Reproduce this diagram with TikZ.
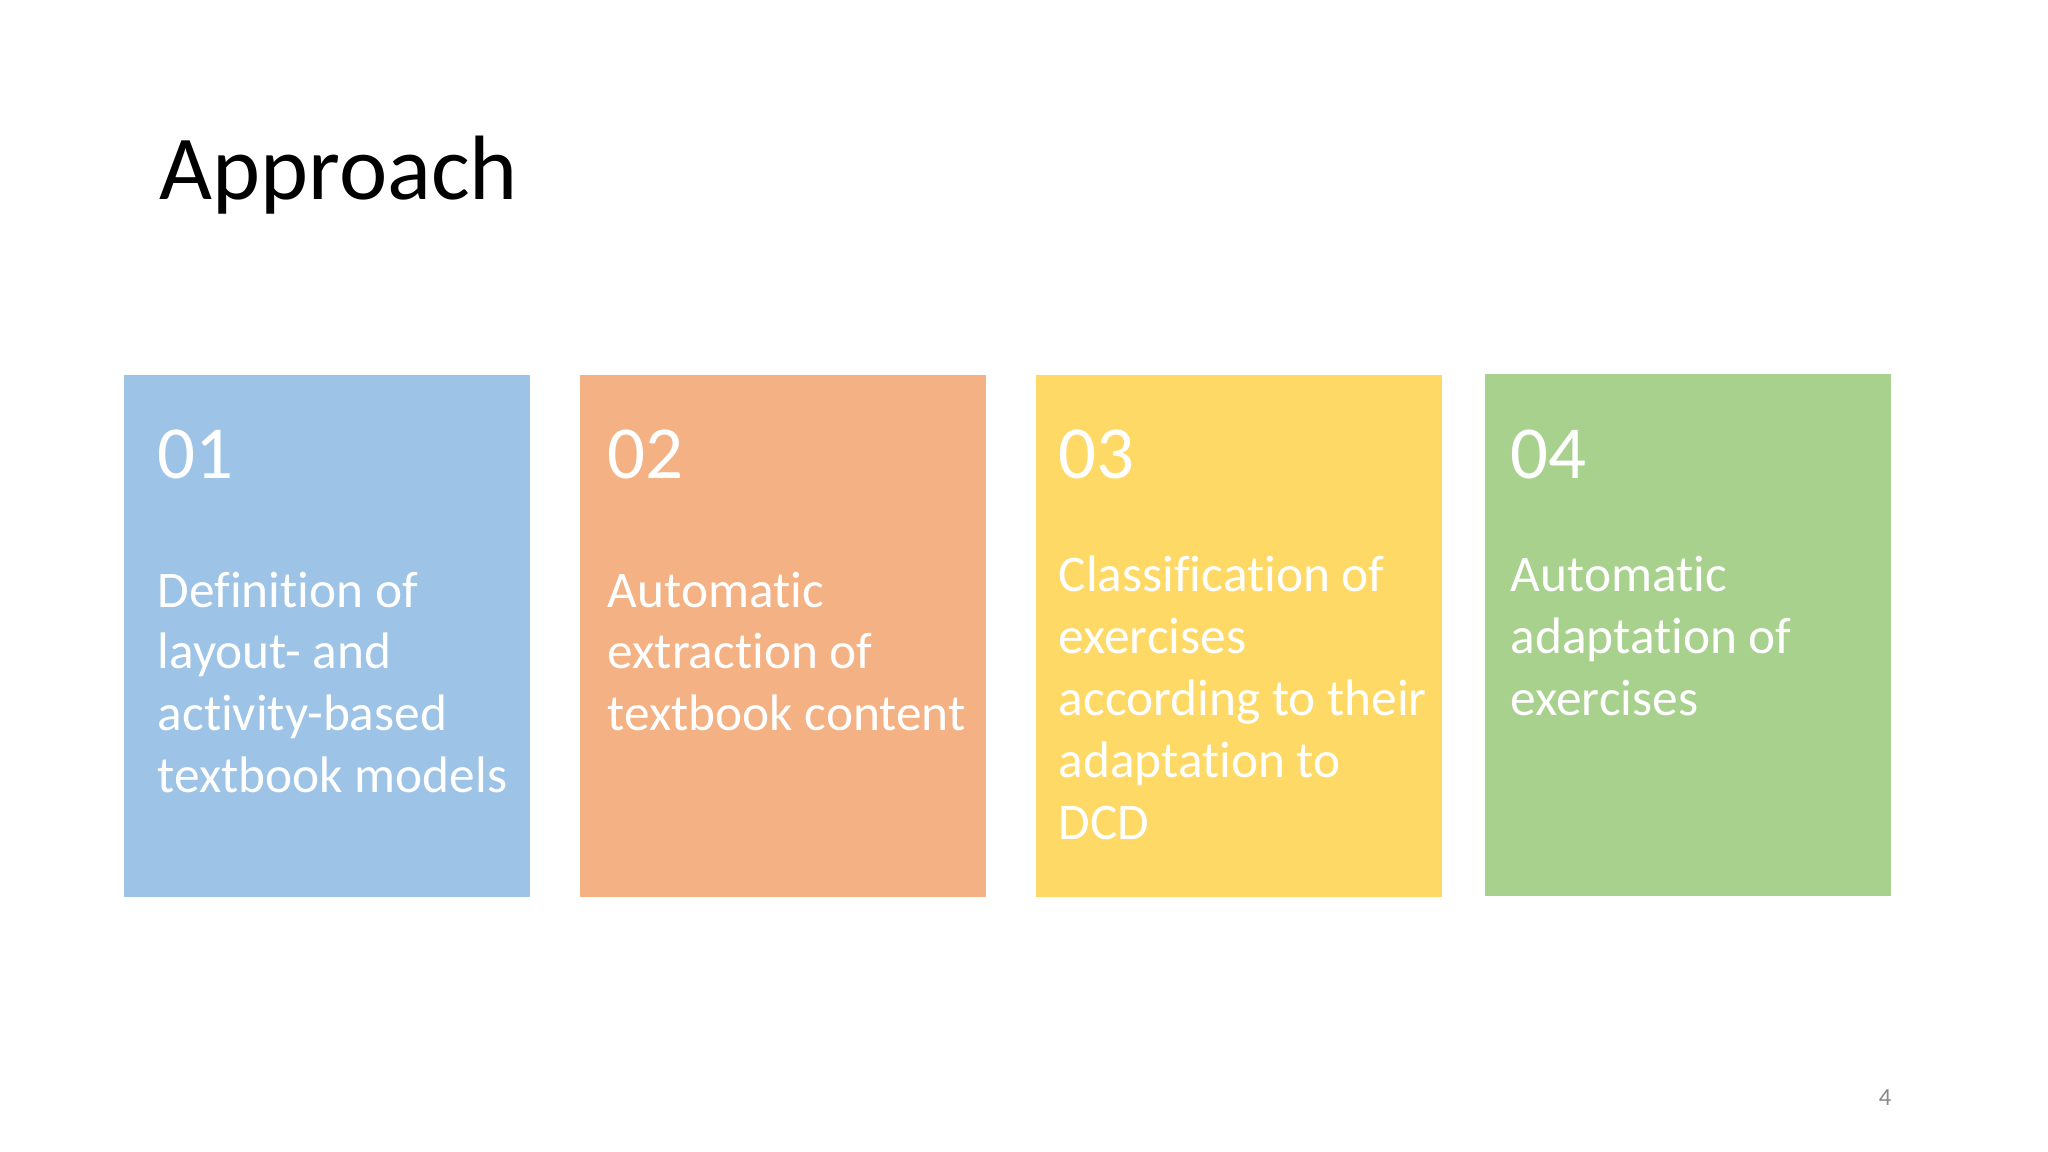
\documentclass[tikz,border=0pt]{standalone}
\usepackage{fontspec}
\setmainfont{Carlito}[RawFeature=-liga]
\definecolor{cblue}{HTML}{9DC3E6}
\definecolor{corange}{HTML}{F4B183}
\definecolor{cyellow}{HTML}{FFD966}
\definecolor{cgreen}{HTML}{A9D18E}
\definecolor{cgray}{HTML}{898989}
\begin{document}
\begin{tikzpicture}[x=0.01cm,y=-0.01cm,
  card/.style={fill=#1,draw=none},
  num/.style={anchor=base west,inner sep=0pt,text=white,font=\fontsize{21.3pt}{26pt}\selectfont},
  body/.style={anchor=base west,inner sep=0pt,text=white,font=\fontsize{14.6pt}{17.6pt}\selectfont},
  title/.style={anchor=base west,inner sep=0pt,text=black,font=\fontsize{26pt}{31pt}\selectfont}]
\useasboundingbox[fill=white] (0,0) rectangle (2048,1152);
\node[title] (ttl) at (159,200) {Approach};
\fill[card=cblue] (124,375) rectangle (530,897);
\fill[card=corange] (580,375) rectangle (986,897);
\fill[card=cyellow] (1036,375) rectangle (1442,897);
\fill[card=cgreen] (1485,374) rectangle (1891,896);
\node[num] (n1) at (157,479) {01};
\node[num] (n2) at (607,479) {02};
\node[num] (n3) at (1058,479) {03};
\node[num] (n4) at (1510,479) {04};
\node[body] (t1) at (157,607) {\parbox[t]{10cm}{\raggedright Definition of\\layout- and\\activity-based\\textbook models}};
\node[body] (t2) at (607,607) {\parbox[t]{10cm}{\raggedright Automatic\\extraction of\\textbook content}};
\node[body] (t3) at (1058,592) {\parbox[t]{10cm}{\raggedright Classification of\\exercises\\according to their\\adaptation to\\DCD}};
\node[body] (t4) at (1510,592) {\parbox[t]{10cm}{\raggedright Automatic\\adaptation of\\exercises}};
\node[anchor=base,inner sep=0pt,text=cgray,font=\fontsize{7pt}{8pt}\selectfont] (pg) at (1885,1105) {4};
\end{tikzpicture}
\end{document}
